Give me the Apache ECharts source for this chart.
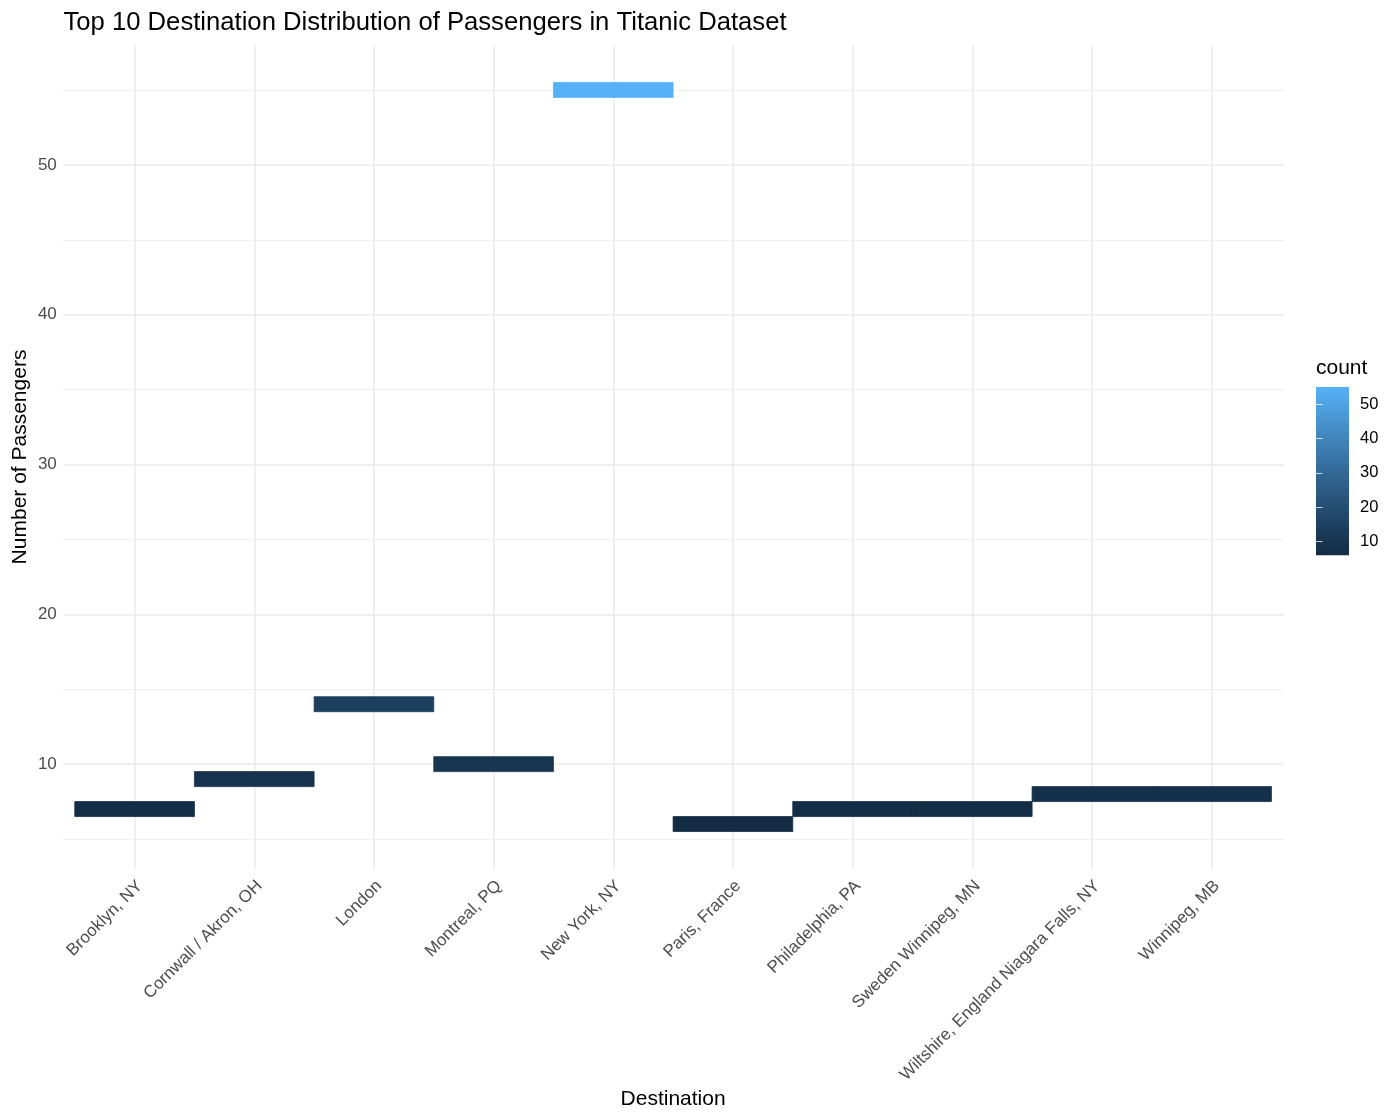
<!DOCTYPE html>
<html>
<head>
<meta charset="utf-8">
<style>html,body{margin:0;padding:0;background:#fff}#c{width:1400px;height:1120px}</style>
<script src="https://cdn.jsdelivr.net/npm/echarts@6/dist/echarts.min.js"></script>
</head>
<body>
<div id="c"></div>
<script>
const categories = ['Brooklyn, NY','Cornwall / Akron, OH','London','Montreal, PQ','New York, NY','Paris, France','Philadelphia, PA','Sweden Winnipeg, MN','Wiltshire, England Niagara Falls, NY','Winnipeg, MB'];
const counts = [7,9,14,10,55,6,7,7,8,8];
const yMajor = [10,20,30,40,50];
const yMinor = [5,15,25,35,45,55];
const legendTicks = [10,20,30,40,50];
const colorStops = ['#132B43','#22496C','#336A98','#448DC6','#56B1F7'];
const countRange = [6,55];
const xPositions = categories.map((c,i)=>i);
const FONT = '"Liberation Sans", Arial, sans-serif';
const tiles = categories.map((c,i)=>[i,counts[i],counts[i]]);

const chart = echarts.init(document.getElementById('c'),null,{renderer:'canvas'});
const panel = {left:62.8,width:1220.6,top:45,height:824};
chart.setOption({
  backgroundColor:'#fff',
  animation:false,
  title:[
    {text:'Top 10 Destination Distribution of Passengers in Titanic Dataset',left:63.5,top:10,padding:0,
     textStyle:{fontFamily:FONT,fontSize:25.65,fontWeight:'normal',color:'#000'}},
    {text:'count',left:1316,top:358,padding:0,textStyle:{fontFamily:FONT,fontSize:21,fontWeight:'normal',color:'#000'}}
  ],
  grid:[
    panel,
    {left:1316,width:33,top:387,height:168.3}
  ],
  xAxis:[
    {gridIndex:0,type:'value',min:-0.6,max:9.6,
     name:'Destination',nameLocation:'middle',nameGap:220,nameMoveOverlap:false,
     nameTextStyle:{fontFamily:FONT,fontSize:21,color:'#000'},
     axisLine:{show:false},
     axisTick:{show:false,customValues:xPositions},
     axisLabel:{customValues:xPositions,rotate:45,margin:9,hideOverlap:false,
       verticalAlign:'top',lineHeight:15,
       formatter:v=>categories[v],fontFamily:FONT,fontSize:17,color:'#4D4D4D'},
     splitLine:{show:true,lineStyle:{color:'#EBEBEB',width:1.5}}},
    {gridIndex:1,type:'value',min:0,max:1,show:false}
  ],
  yAxis:[
    {gridIndex:0,type:'value',min:3,max:58,
     name:'Number of Passengers',nameLocation:'middle',nameGap:32,nameMoveOverlap:false,
     nameTextStyle:{fontFamily:FONT,fontSize:21,color:'#000'},
     axisLine:{show:false},
     axisTick:{show:false,customValues:yMajor},
     axisLabel:{customValues:yMajor,margin:6,fontFamily:FONT,fontSize:17,color:'#4D4D4D'},
     splitLine:{show:true,lineStyle:{color:'#EBEBEB',width:1.5}}},
    {gridIndex:0,type:'value',min:3,max:58,position:'left',
     axisLine:{show:false},
     axisTick:{show:false,customValues:yMinor},
     axisLabel:{show:false,customValues:yMinor},
     splitLine:{show:true,lineStyle:{color:'#EFEFEF',width:1}}},
    {gridIndex:1,type:'value',min:countRange[0],max:countRange[1],position:'right',z:20,
     axisLine:{show:false},
     axisTick:{show:true,inside:true,length:6.6,customValues:legendTicks,lineStyle:{color:'rgba(255,255,255,0.75)',width:1}},
     axisLabel:{customValues:legendTicks,margin:11,fontFamily:FONT,fontSize:16.5,color:'#000'},
     splitLine:{show:false}},
    {gridIndex:1,type:'value',min:countRange[0],max:countRange[1],position:'left',z:20,
     axisLine:{show:false},
     axisTick:{show:true,inside:true,length:6.6,customValues:legendTicks,lineStyle:{color:'rgba(255,255,255,0.75)',width:1}},
     axisLabel:{show:false,customValues:legendTicks},
     splitLine:{show:false}}
  ],
  visualMap:{type:'continuous',show:false,min:countRange[0],max:countRange[1],dimension:2,seriesIndex:0,
    inRange:{color:colorStops}},
  series:[{
    type:'custom',
    coordinateSystem:'cartesian2d',xAxisIndex:0,yAxisIndex:0,
    encode:{x:0,y:1},
    z:5,
    data:tiles,
    renderItem:function(params,api){
      const c = api.coord([api.value(0),api.value(1)]);
      const s = api.size([1,1]);
      const col = api.visual('color');
      return {type:'rect',
        shape:{x:c[0]-s[0]/2,y:c[1]-s[1]/2,width:s[0],height:s[1]},
        style:{fill:col,stroke:col,lineWidth:0.8}};
    }
  },{
    type:'custom',
    coordinateSystem:'cartesian2d',xAxisIndex:1,yAxisIndex:2,
    z:5,silent:true,
    data:[[0,countRange[0],1,countRange[1]]],
    renderItem:function(params,api){
      const a = api.coord([api.value(0),api.value(1)]);
      const b = api.coord([api.value(2),api.value(3)]);
      return {type:'rect',
        shape:{x:a[0],y:b[1],width:b[0]-a[0],height:a[1]-b[1]},
        style:{fill:new echarts.graphic.LinearGradient(0,1,0,0,
          colorStops.map((c,i)=>({offset:i/(colorStops.length-1),color:c})))}};
    }
  }]
});
</script>
</body>
</html>
